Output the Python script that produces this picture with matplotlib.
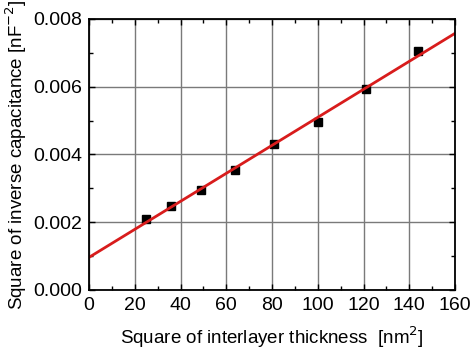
import numpy as np
import matplotlib
matplotlib.use("Agg")
import matplotlib.pyplot as plt
from matplotlib.ticker import MultipleLocator

plt.rcParams['font.family'] = ['Liberation Sans', 'DejaVu Sans']

thickness_sq = [25, 36, 49, 64, 81, 100, 121, 144]
inv_cap_sq = [0.00209, 0.00249, 0.00295, 0.00355, 0.00430, 0.00497, 0.00593, 0.00705]

x_ticks = [0, 20, 40, 60, 80, 100, 120, 140, 160]
y_ticks = [0.000, 0.002, 0.004, 0.006, 0.008]
y_tick_labels = ["0.000", "0.002", "0.004", "0.006", "0.008"]

fig = plt.figure(figsize=(4.74, 3.51), dpi=100)
ax = fig.add_axes([0.188, 0.174, 0.772, 0.772])

slope, intercept = np.polyfit(thickness_sq, inv_cap_sq, 1)
xf = np.array([x_ticks[0], x_ticks[-1]])
ax.plot(xf, slope * xf + intercept, color='#d81c1c', lw=2.0, zorder=3)
ax.plot(thickness_sq, inv_cap_sq, 's', color='black', ms=5.5, zorder=2)

ax.set_xlim(0, 160)
ax.set_ylim(0, 0.008)
ax.set_xticks(x_ticks)
ax.set_yticks(y_ticks)
ax.set_yticklabels(y_tick_labels)
ax.xaxis.set_minor_locator(MultipleLocator(10))
ax.yaxis.set_minor_locator(MultipleLocator(0.001))
ax.grid(True, which='major', color='#7a7a7a', lw=1.0)
ax.set_axisbelow(True)
ax.tick_params(which='both', direction='in', top=True, right=True, labelsize=14, width=1.0, color='black')
ax.tick_params(which='major', length=4)
ax.tick_params(which='minor', length=3)
ax.tick_params(axis='x', which='major', pad=5)
ax.tick_params(axis='y', which='major', pad=5)
for s in ax.spines.values():
    s.set_linewidth(1.3)
    s.set_zorder(4)

ax.set_xlabel("Square of interlayer thickness  [nm$^2$]", fontsize=13.5, labelpad=8)
ax.set_ylabel("Square of inverse capacitance [nF$^{-2}$]", fontsize=13.5, labelpad=3)

fig.savefig("out.png", dpi=100)
